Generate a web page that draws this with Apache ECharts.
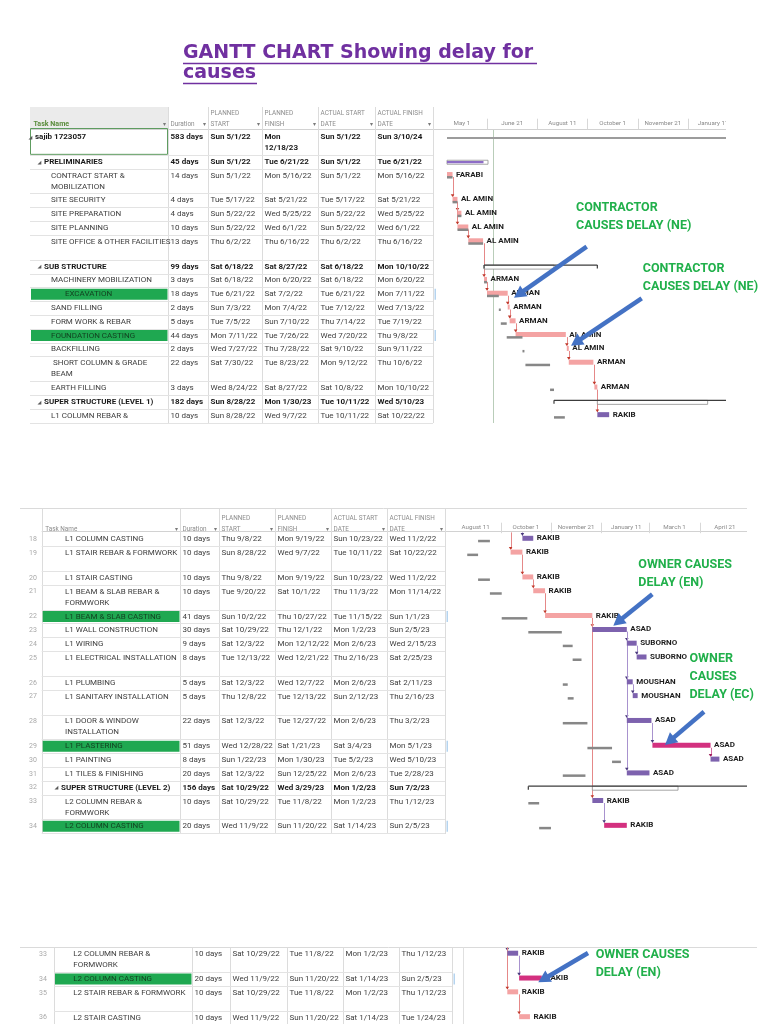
<!DOCTYPE html>
<html>
<head>
<meta charset="utf-8">
<title>GANTT CHART Showing delay for causes</title>
<script src="https://cdn.jsdelivr.net/npm/echarts@6.0.0/dist/echarts.min.js"></script>
<style>
html,body{margin:0;padding:0;background:#ffffff;}
#chart{width:768px;height:1024px;}
</style>
</head>
<body>
<div id="chart"></div>
<script>
// ================= DATA =================
const titleLines = ['GANTT CHART Showing delay for', 'causes'];
const columnHeaders = [['Task Name'], ['Duration'], ['PLANNED', 'START'], ['PLANNED', 'FINISH'], ['ACTUAL START', 'DATE'], ['ACTUAL FINISH', 'DATE']];
const timescale1 = ['May 1', 'June 21', 'August 11', 'October 1', 'November 21', 'January 11'];
const timescale1Dates = ['5/1/22', '6/21/22', '8/11/22', '10/1/22', '11/21/22', '1/11/23'];
const timescale2 = ['August 11', 'October 1', 'November 21', 'January 11', 'March 1', 'April 21'];
const timescale2Dates = ['8/11/22', '10/1/22', '11/21/22', '1/11/23', '3/1/23', '4/21/23'];
const currentDate = 'Mon 6/27/22';

// [row id, task name, duration, planned start, planned finish, actual start, actual finish, resource, kind, text lines, predecessor, highlighted]
const section1Rows = [
  [null, 'sajib 1723057', '583 days', 'Sun 5/1/22', 'Mon\n12/18/23', 'Sun 5/1/22', 'Sun 3/10/24', '', 'project', 2, null, false],
  [null, 'PRELIMINARIES', '45 days', 'Sun 5/1/22', 'Tue 6/21/22', 'Sun 5/1/22', 'Tue 6/21/22', '', 'summaryP', 1, null, false],
  [null, 'CONTRACT START &\nMOBILIZATION', '14 days', 'Sun 5/1/22', 'Mon 5/16/22', 'Sun 5/1/22', 'Mon 5/16/22', 'FARABI', 'critical', 2, null, false],
  [null, 'SITE SECURITY', '4 days', 'Tue 5/17/22', 'Sat 5/21/22', 'Tue 5/17/22', 'Sat 5/21/22', 'AL AMIN', 'critical', 1, 2, false],
  [null, 'SITE PREPARATION', '4 days', 'Sun 5/22/22', 'Wed 5/25/22', 'Sun 5/22/22', 'Wed 5/25/22', 'AL AMIN', 'critical', 1, 3, false],
  [null, 'SITE PLANNING', '10 days', 'Sun 5/22/22', 'Wed 6/1/22', 'Sun 5/22/22', 'Wed 6/1/22', 'AL AMIN', 'critical', 1, 3, false],
  [null, 'SITE OFFICE & OTHER FACILITIES', '13 days', 'Thu 6/2/22', 'Thu 6/16/22', 'Thu 6/2/22', 'Thu 6/16/22', 'AL AMIN', 'critical', 2, 5, false],
  [null, 'SUB STRUCTURE', '99 days', 'Sat 6/18/22', 'Sat 8/27/22', 'Sat 6/18/22', 'Mon 10/10/22', '', 'summary', 1, null, false],
  [null, 'MACHINERY MOBILIZATION', '3 days', 'Sat 6/18/22', 'Mon 6/20/22', 'Sat 6/18/22', 'Mon 6/20/22', 'ARMAN', 'critical', 1, 6, false],
  [null, '       EXCAVATION', '18 days', 'Tue 6/21/22', 'Sat 7/2/22', 'Tue 6/21/22', 'Mon 7/11/22', 'ARMAN', 'critical', 1, 8, true],
  [null, 'SAND FILLING', '2 days', 'Sun 7/3/22', 'Mon 7/4/22', 'Tue 7/12/22', 'Wed 7/13/22', 'ARMAN', 'critical', 1, 9, false],
  [null, 'FORM WORK & REBAR', '5 days', 'Tue 7/5/22', 'Sun 7/10/22', 'Thu 7/14/22', 'Tue 7/19/22', 'ARMAN', 'critical', 1, 10, false],
  [null, 'FOUNDATION CASTING', '44 days', 'Mon 7/11/22', 'Tue 7/26/22', 'Wed 7/20/22', 'Thu 9/8/22', 'AL AMIN', 'critical', 1, 11, true],
  [null, 'BACKFILLING', '2 days', 'Wed 7/27/22', 'Thu 7/28/22', 'Sat 9/10/22', 'Sun 9/11/22', 'AL AMIN', 'critical', 1, 12, false],
  [null, ' SHORT COLUMN & GRADE\nBEAM', '22 days', 'Sat 7/30/22', 'Tue 8/23/22', 'Mon 9/12/22', 'Thu 10/6/22', 'ARMAN', 'critical', 2, 13, false],
  [null, 'EARTH FILLING', '3 days', 'Wed 8/24/22', 'Sat 8/27/22', 'Sat 10/8/22', 'Mon 10/10/22', 'ARMAN', 'critical', 1, 14, false],
  [null, 'SUPER STRUCTURE (LEVEL 1)', '182 days', 'Sun 8/28/22', 'Mon 1/30/23', 'Tue 10/11/22', 'Wed 5/10/23', '', 'summary', 1, null, false],
  [null, 'L1 COLUMN REBAR &', '10 days', 'Sun 8/28/22', 'Wed 9/7/22', 'Tue 10/11/22', 'Sat 10/22/22', 'RAKIB', 'normal', 1, 15, false]
];

const section2Rows = [
  [18, 'L1 COLUMN CASTING', '10 days', 'Thu 9/8/22', 'Mon 9/19/22', 'Sun 10/23/22', 'Wed 11/2/22', 'RAKIB', 'normal', 1, 'top', false],
  [19, 'L1 STAIR REBAR & FORMWORK', '10 days', 'Sun 8/28/22', 'Wed 9/7/22', 'Tue 10/11/22', 'Sat 10/22/22', 'RAKIB', 'critical', 2, 'top', false],
  [20, 'L1 STAIR CASTING', '10 days', 'Thu 9/8/22', 'Mon 9/19/22', 'Sun 10/23/22', 'Wed 11/2/22', 'RAKIB', 'critical', 1, 1, false],
  [21, 'L1 BEAM & SLAB REBAR &\nFORMWORK', '10 days', 'Tue 9/20/22', 'Sat 10/1/22', 'Thu 11/3/22', 'Mon 11/14/22', 'RAKIB', 'critical', 2, 2, false],
  [22, 'L1 BEAM & SLAB CASTING', '41 days', 'Sun 10/2/22', 'Thu 10/27/22', 'Tue 11/15/22', 'Sun 1/1/23', 'RAKIB', 'critical', 1, 3, true],
  [23, 'L1 WALL CONSTRUCTION', '30 days', 'Sat 10/29/22', 'Thu 12/1/22', 'Mon 1/2/23', 'Sun 2/5/23', 'ASAD', 'normal', 1, 4, false],
  [24, 'L1 WIRING', '9 days', 'Sat 12/3/22', 'Mon 12/12/22', 'Mon 2/6/23', 'Wed 2/15/23', 'SUBORNO', 'normal', 1, 5, false],
  [25, 'L1 ELECTRICAL INSTALLATION', '8 days', 'Tue 12/13/22', 'Wed 12/21/22', 'Thu 2/16/23', 'Sat 2/25/23', 'SUBORNO', 'normal', 2, 6, false],
  [26, 'L1 PLUMBING', '5 days', 'Sat 12/3/22', 'Wed 12/7/22', 'Mon 2/6/23', 'Sat 2/11/23', 'MOUSHAN', 'normal', 1, 5, false],
  [27, 'L1 SANITARY INSTALLATION', '5 days', 'Thu 12/8/22', 'Tue 12/13/22', 'Sun 2/12/23', 'Thu 2/16/23', 'MOUSHAN', 'normal', 2, 8, false],
  [28, 'L1 DOOR & WINDOW\nINSTALLATION', '22 days', 'Sat 12/3/22', 'Tue 12/27/22', 'Mon 2/6/23', 'Thu 3/2/23', 'ASAD', 'normal', 2, 5, false],
  [29, 'L1 PLASTERING', '51 days', 'Wed 12/28/22', 'Sat 1/21/23', 'Sat 3/4/23', 'Mon 5/1/23', 'ASAD', 'delayed', 1, 10, true],
  [30, 'L1 PAINTING', '8 days', 'Sun 1/22/23', 'Mon 1/30/23', 'Tue 5/2/23', 'Wed 5/10/23', 'ASAD', 'normal', 1, 11, false],
  [31, 'L1 TILES & FINISHING', '20 days', 'Sat 12/3/22', 'Sun 12/25/22', 'Mon 2/6/23', 'Tue 2/28/23', 'ASAD', 'normal', 1, 5, false],
  [32, 'SUPER STRUCTURE (LEVEL 2)', '156 days', 'Sat 10/29/22', 'Wed 3/29/23', 'Mon 1/2/23', 'Sun 7/2/23', '', 'summary', 1, null, false],
  [33, 'L2 COLUMN REBAR &\nFORMWORK', '10 days', 'Sat 10/29/22', 'Tue 11/8/22', 'Mon 1/2/23', 'Thu 1/12/23', 'RAKIB', 'normal', 2, 4, false],
  [34, 'L2 COLUMN CASTING', '20 days', 'Wed 11/9/22', 'Sun 11/20/22', 'Sat 1/14/23', 'Sun 2/5/23', 'RAKIB', 'delayed', 1, 15, true]
];

const section3Rows = [
  [33, 'L2 COLUMN REBAR &\nFORMWORK', '10 days', 'Sat 10/29/22', 'Tue 11/8/22', 'Mon 1/2/23', 'Thu 1/12/23', 'RAKIB', 'normal', 2, 'top', false],
  [34, 'L2 COLUMN CASTING', '20 days', 'Wed 11/9/22', 'Sun 11/20/22', 'Sat 1/14/23', 'Sun 2/5/23', 'RAKIB', 'delayed', 1, 0, true],
  [35, 'L2 STAIR REBAR & FORMWORK', '10 days', 'Sat 10/29/22', 'Tue 11/8/22', 'Mon 1/2/23', 'Thu 1/12/23', 'RAKIB', 'critical', 2, 'top', false],
  [36, 'L2 STAIR CASTING', '10 days', 'Wed 11/9/22', 'Sun 11/20/22', 'Sat 1/14/23', 'Tue 1/24/23', 'RAKIB', 'critical', 1, 2, false]
];

const calloutTexts = [
  'CONTRACTOR\nCAUSES DELAY (NE)',
  'CONTRACTOR\nCAUSES DELAY (NE)',
  'OWNER CAUSES\nDELAY (EN)',
  'OWNER\nCAUSES\nDELAY (EC)',
  'OWNER CAUSES\nDELAY (EN)'
];

// ================= LAYOUT / STYLE =================
const UNIT = 13.8, TALL = 1.8, PPD = 0.985, DAY = 86400000;
const FONT = 'Roboto, "Liberation Sans", Arial, sans-serif';
const font = (s, b) => (b ? 'bold ' : '') + s + 'px ' + FONT;
const BAR = { critical: '#F4A3A3', normal: '#7D62AE', delayed: '#D3307F' };
const LINK = { critical: '#E58888', normal: '#A892CE', delayed: '#D56BA5' };
const MARK = { critical: '#C0392B', normal: '#4A3A7C', delayed: '#9C1D5A' };

const layouts = [
  { cols: [30, 168, 208, 262, 318, 375, 433], numX: null, headerTop: 107, headerY: 124.3, rowsTop: 130, rowsBottom: 423,
    ganttLeft: 447, ganttRight: 726, anchor: '6/22/22', anchorX: 488, scaleY: 123.7, topBorder: null, divider: null,
    indent: { project: 5, summary: 14, task: 21 }, taskHeaderGreen: true },
  { cols: [41.7, 180, 219, 275, 331, 387, 445], numX: 33, headerTop: 508.5, headerY: 529, rowsTop: 532.4, rowsBottom: 834,
    ganttLeft: 450.5, ganttRight: 747, anchor: '8/11/22', anchorX: 450.5, scaleY: 527.7, topBorder: [20, 747, 508.5], divider: null,
    indent: { project: 5, summary: 19.3, task: 23.3 }, taskHeaderGreen: false },
  { cols: [54, 192, 230, 287, 343, 399, 452], numX: 43, headerTop: null, headerY: null, rowsTop: 947.3, rowsBottom: 1024,
    ganttLeft: 467, ganttRight: 757, anchor: '1/2/23', anchorX: 507.3, scaleY: null, topBorder: [20, 757, 947.5], divider: 463,
    indent: { project: 5, summary: 15, task: 19.3 }, taskHeaderGreen: false }
];

const calloutLayout = [
  { x: 576, y: 207.7, tail: [586.7, 246.7], tip: [514, 297.7] },
  { x: 642.7, y: 269.3, tail: [641.7, 298.3], tip: [571, 345.7] },
  { x: 638.3, y: 565, tail: [652.3, 594.3], tip: [613.3, 625.7] },
  { x: 689.5, y: 659, tail: [704, 711.7], tip: [665, 745] },
  { x: 595.7, y: 955, tail: [588, 953], tip: [538.3, 982.3] }
];

// ================= HELPERS =================
function parseDate(s) {
  const p = s.trim().split(/\s+/).pop().split('/');
  return Date.UTC(2000 + Number(p[2]), Number(p[0]) - 1, Number(p[1]));
}
function spansOf(rows) {
  let t = 0;
  return rows.map(r => { const top = t; t += (r[9] === 2 ? TALL : 1); return [top, t]; });
}
function textTop(t, x, yc, fill, fnt) {
  return { type: 'text', x: x, y: yc - 5.5, style: { text: t, fill: fill, font: fnt, align: 'left', verticalAlign: 'top', lineHeight: 11 } };
}
function kindLevel(kind) {
  if (kind === 'project') return 'project';
  if (kind === 'summary' || kind === 'summaryP') return 'summary';
  return 'task';
}

const sections = [
  { rows: section1Rows, L: layouts[0], scale: timescale1, scaleDates: timescale1Dates },
  { rows: section2Rows, L: layouts[1], scale: timescale2, scaleDates: timescale2Dates },
  { rows: section3Rows, L: layouts[2], scale: [], scaleDates: [] }
];
sections.forEach(s => { s.spans = spansOf(s.rows); });

// ---------- renderers ----------
function tableRowItem(sec) {
  return function (params, api) {
    const i = api.value(3), r = sec.rows[i], L = sec.L, C = L.cols;
    const yTop = api.coord([0, api.value(1)])[1];
    const yBot = api.coord([0, api.value(2)])[1];
    const yc = yTop + UNIT / 2;
    const level = kindLevel(r[8]);
    const bold = level !== 'task';
    const kids = [];
    const yl = Math.round(yBot) + 0.5;
    kids.push({ type: 'line', shape: { x1: C[0], y1: yl, x2: C[6], y2: yl }, style: { stroke: '#E3E3E3', lineWidth: 1 } });
    if (r[11]) {
      kids.push({ type: 'rect', shape: { x: C[0] + 1, y: yc - 5.5, width: C[1] - C[0] - 1.5, height: 11 }, style: { fill: '#1FA851' } });
      kids.push({ type: 'rect', shape: { x: C[6] + 1.5, y: yc - 5.5, width: 1.5, height: 11 }, style: { fill: '#B5D4EF' } });
    }
    if (level === 'project') {
      kids.push({ type: 'rect', shape: { x: C[0] + 0.5, y: yTop - 1.5, width: C[1] - C[0] - 1, height: yBot - yTop + 1 },
        style: { fill: 'none', stroke: '#5E9C60', lineWidth: 1 } });
    }
    if (L.numX != null && r[0] != null) {
      kids.push({ type: 'text', x: L.numX, y: yc, style: { text: String(r[0]), fill: '#A9A9A9', font: font(7, false), align: 'center', verticalAlign: 'middle' } });
    }
    const nx = C[0] + L.indent[level];
    if (bold) {
      kids.push({ type: 'text', x: nx - 4.5, y: yc + 0.5, style: { text: '◢', fill: '#5A5A5A', font: '5px "DejaVu Sans"', align: 'center', verticalAlign: 'middle' } });
    }
    const nameColor = r[11] ? '#123F1F' : (bold ? '#1A1A1A' : '#404040');
    kids.push(textTop(r[1], nx, yc, nameColor, font(8, bold)));
    for (let k = 2; k <= 6; k++) {
      kids.push(textTop(r[k], C[k - 1] + 2.5, yc, bold ? '#1A1A1A' : '#404040', font(8, bold)));
    }
    return { type: 'group', children: kids };
  };
}

function tableHeaderItem(sec) {
  return function (params, api) {
    const j = api.value(2), L = sec.L, C = L.cols;
    const top = L.headerTop != null ? L.headerTop : L.topBorder[2];
    const kids = [];
    const xr = Math.round(C[j + 1]) + 0.5;
    kids.push({ type: 'line', shape: { x1: xr, y1: top, x2: xr, y2: L.rowsBottom }, style: { stroke: '#DCDCDC', lineWidth: 1 } });
    if (j === 0 && L.numX != null) {
      const xl = Math.round(C[0]) + 0.5;
      kids.push({ type: 'line', shape: { x1: xl, y1: top, x2: xl, y2: L.rowsBottom }, style: { stroke: '#DCDCDC', lineWidth: 1 } });
    }
    if (L.headerY != null) {
      const h = columnHeaders[j];
      const green = (j === 0 && L.taskHeaderGreen);
      const fnt = green ? font(7.1, true) : font(6.4, false);
      const col = green ? '#5A8C3C' : '#8C8C8C';
      const tx = C[j] + (j === 0 ? 3.5 : 2.5);
      if (h.length === 2) {
        kids.push({ type: 'text', x: tx, y: L.headerY - 10.5, style: { text: h[0], fill: col, font: fnt, align: 'left', verticalAlign: 'middle' } });
      }
      kids.push({ type: 'text', x: tx, y: L.headerY, style: { text: h[h.length - 1], fill: col, font: fnt, align: 'left', verticalAlign: 'middle' } });
      kids.push({ type: 'text', x: C[j + 1] - 2, y: L.headerY + 0.5, style: { text: '▾', fill: '#7A7A7A', font: '6px "DejaVu Sans"', align: 'right', verticalAlign: 'middle' } });
    }
    return { type: 'group', children: kids };
  };
}

function scaleItem(sec) {
  return function (params, api) {
    const j = api.value(2), cs = params.coordSys, y = sec.L.scaleY;
    const d = parseDate(sec.scaleDates[j]);
    const x0 = api.coord([d, 0])[0];
    const xc = api.coord([d + 25.5 * DAY, 0])[0];
    const kids = [];
    if (x0 > cs.x + 2 && x0 < cs.x + cs.width) {
      const xs = Math.round(x0) + 0.5;
      kids.push({ type: 'line', shape: { x1: xs, y1: y - 5, x2: xs, y2: y + 5.5 }, style: { stroke: '#D8D8D8', lineWidth: 1 } });
    }
    kids.push({ type: 'text', x: xc, y: y, style: { text: sec.scale[j], fill: '#8A8A8A', font: font(6.2, false), align: 'center', verticalAlign: 'middle' } });
    return { type: 'group', children: kids, clipPath: { type: 'rect', shape: { x: cs.x, y: y - 9, width: cs.width, height: 18 } } };
  };
}

function currentLineItem(params, api) {
  const cs = params.coordSys;
  const x = api.coord([api.value(0), 0])[0];
  if (x < cs.x || x > cs.x + cs.width) return null;
  const xs = Math.round(x) + 0.5;
  return { type: 'line', shape: { x1: xs, y1: cs.y, x2: xs, y2: cs.y + cs.height }, style: { stroke: '#B9CDB9', lineWidth: 1 } };
}

function ganttItem(sec, part) {
  return function (params, api) {
    const i = api.value(3), r = sec.rows[i], cs = params.coordSys;
    const xL = cs.x, xR = cs.x + cs.width;
    const yU = api.value(2);
    const X = ms => api.coord([ms, yU])[0];
    const yc = api.coord([api.value(0), yU])[1];
    const clamp = x => Math.max(xL, Math.min(xR, x));
    const ps = parseDate(r[3]), pf = parseDate(r[4]) + DAY, as = parseDate(r[5]), af = parseDate(r[6]) + DAY;
    const kind = r[8];
    const kids = [];
    if (part === 'link') {
      if (r[10] == null) return null;
      const x = X(as);
      if (x < xL || x > xR) return null;
      let y0, ck;
      if (r[10] === 'top') { y0 = cs.y; ck = kind; }
      else {
        const p = r[10];
        y0 = api.coord([api.value(0), sec.spans[p][0] + 0.5])[1] + 1.5;
        ck = sec.rows[p][8];
      }
      const xs = Math.round(x) + 0.5;
      kids.push({ type: 'line', shape: { x1: xs, y1: y0, x2: xs, y2: yc - 4 }, style: { stroke: LINK[ck], lineWidth: 1 } });
      kids.push({ type: 'polygon', shape: { points: [[x - 1.8, yc - 6.2], [x + 1.8, yc - 6.2], [x, yc - 3.4]] }, style: { fill: MARK[ck] } });
      return { type: 'group', children: kids };
    }
    if (kind === 'project') {
      const a = clamp(X(Math.min(ps, as))), b = clamp(X(Math.max(pf, af)));
      kids.push({ type: 'line', shape: { x1: a, y1: yc + 1, x2: b, y2: yc + 1 }, style: { stroke: '#9C9C9C', lineWidth: 2 } });
      return { type: 'group', children: kids };
    }
    if (kind === 'summary' || kind === 'summaryP') {
      const b0 = X(as), b1 = X(pf);
      if (b1 > xL && b0 < xR) {
        kids.push({ type: 'rect', shape: { x: clamp(b0), y: yc - 1.5, width: clamp(b1) - clamp(b0), height: 4 },
          style: { fill: '#ffffff', stroke: '#8E8E8E', lineWidth: 0.8 } });
      }
      const l0 = X(Math.min(ps, as)), l1 = X(Math.max(pf, af));
      if (kind === 'summaryP') {
        kids.push({ type: 'rect', shape: { x: clamp(l0), y: yc - 0.8, width: Math.max(0, clamp(l1) - clamp(l0) - 4.5), height: 2.2 }, style: { fill: '#8D6CC6' } });
      } else {
        const y = yc - 1.5;
        kids.push({ type: 'line', shape: { x1: clamp(l0), y1: y, x2: clamp(l1), y2: y }, style: { stroke: '#3C3C3C', lineWidth: 1.2 } });
        if (l0 >= xL) kids.push({ type: 'line', shape: { x1: l0, y1: y, x2: l0, y2: y + 3.5 }, style: { stroke: '#3C3C3C', lineWidth: 1.2 } });
        if (l1 <= xR) kids.push({ type: 'line', shape: { x1: l1, y1: y, x2: l1, y2: y + 3.5 }, style: { stroke: '#3C3C3C', lineWidth: 1.2 } });
      }
      return { type: 'group', children: kids };
    }
    const a0 = X(as), a1 = X(af);
    if (a1 > xL && a0 < xR) {
      kids.push({ type: 'rect', shape: { x: clamp(a0), y: yc - 3.5, width: Math.max(1.5, clamp(a1) - clamp(a0)), height: 5 }, style: { fill: BAR[kind] } });
    }
    const p0 = X(ps), p1 = X(pf);
    if (p1 > xL && p0 < xR) {
      kids.push({ type: 'rect', shape: { x: clamp(p0), y: yc + 0.5, width: Math.max(1.5, clamp(p1) - clamp(p0)), height: 2.5 }, style: { fill: '#878787' } });
    }
    if (r[7] && a1 > xL && a1 + 4 < xR) {
      kids.push({ type: 'text', x: a1 + 3.5, y: yc - 1, style: { text: r[7], fill: '#1E1E1E', font: font(8, true), align: 'left', verticalAlign: 'middle' } });
    }
    return { type: 'group', children: kids };
  };
}

// ================= OPTION =================
const grids = [], xAxes = [], yAxes = [], series = [];
sections.forEach((sec, s) => {
  const L = sec.L;
  const h = L.rowsBottom - L.rowsTop;
  const units = h / UNIT;
  const gi = 2 * s, gg = 2 * s + 1;
  grids.push({ left: L.cols[0], top: L.rowsTop, width: L.cols[6] - L.cols[0], height: h });
  grids.push({ left: L.ganttLeft, top: L.rowsTop, width: L.ganttRight - L.ganttLeft, height: h });
  const anchor = parseDate(L.anchor);
  xAxes.push({ type: 'value', gridIndex: gi, min: 0, max: 1, show: false });
  xAxes.push({ type: 'time', gridIndex: gg, show: false,
    min: anchor - (L.anchorX - L.ganttLeft) / PPD * DAY,
    max: anchor + (L.ganttRight - L.anchorX) / PPD * DAY });
  yAxes.push({ type: 'value', gridIndex: gi, min: 0, max: units, inverse: true, show: false });
  yAxes.push({ type: 'value', gridIndex: gg, min: 0, max: units, inverse: true, show: false });

  const base = { type: 'custom', coordinateSystem: 'cartesian2d', silent: true, animation: false };
  series.push(Object.assign({}, base, { xAxisIndex: gi, yAxisIndex: gi, z: 2,
    data: sec.spans.map((sp, i) => [0, sp[0], sp[1], i]), encode: { x: 0, y: 1 }, renderItem: tableRowItem(sec) }));
  series.push(Object.assign({}, base, { xAxisIndex: gi, yAxisIndex: gi, z: 1,
    data: columnHeaders.map((c, j) => [0, 0, j]), encode: { x: 0, y: 1 }, renderItem: tableHeaderItem(sec) }));
  if (sec.scale.length) {
    series.push(Object.assign({}, base, { xAxisIndex: gg, yAxisIndex: gg, z: 2,
      data: sec.scaleDates.map((d, j) => [parseDate(d), 0, j]), encode: { x: 0, y: 1 }, renderItem: scaleItem(sec) }));
  }
  series.push(Object.assign({}, base, { xAxisIndex: gg, yAxisIndex: gg, z: 1,
    data: [[parseDate(currentDate), 0]], encode: { x: 0, y: 1 }, renderItem: currentLineItem }));
  const gdata = sec.rows.map((r, i) => [parseDate(r[5]), parseDate(r[6]) + DAY, sec.spans[i][0] + 0.5, i]);
  series.push(Object.assign({}, base, { xAxisIndex: gg, yAxisIndex: gg, z: 3,
    data: gdata, encode: { x: [0, 1], y: 2 }, renderItem: ganttItem(sec, 'link') }));
  series.push(Object.assign({}, base, { xAxisIndex: gg, yAxisIndex: gg, z: 4,
    data: gdata, encode: { x: [0, 1], y: 2 }, renderItem: ganttItem(sec, 'bar') }));
});

// ---------- graphic (title, frame, callouts) ----------
const graphic = [];
graphic.push({ type: 'text', x: 183, y: 53.4, z: 50, style: { text: titleLines[0], fill: '#7030A0', font: 'bold 19px "DejaVu Sans"', align: 'left', verticalAlign: 'middle' } });
graphic.push({ type: 'text', x: 183, y: 73.4, z: 50, style: { text: titleLines[1], fill: '#7030A0', font: 'bold 19px "DejaVu Sans"', align: 'left', verticalAlign: 'middle' } });
graphic.push({ type: 'line', z: 50, shape: { x1: 183, y1: 63.5, x2: 537, y2: 63.5 }, style: { stroke: '#7030A0', lineWidth: 1.6 } });
graphic.push({ type: 'line', z: 50, shape: { x1: 183, y1: 83.5, x2: 257, y2: 83.5 }, style: { stroke: '#7030A0', lineWidth: 1.6 } });

layouts.forEach((L) => {
  if (L.taskHeaderGreen) {
    graphic.push({ type: 'rect', z: 0, shape: { x: L.cols[0], y: L.headerTop, width: L.cols[1] - L.cols[0], height: L.rowsTop - L.headerTop - 1.5 }, style: { fill: '#EBEBEB' } });
  }
  if (L.topBorder) {
    graphic.push({ type: 'line', z: 0, shape: { x1: L.topBorder[0], y1: L.topBorder[2], x2: L.topBorder[1], y2: L.topBorder[2] }, style: { stroke: '#DADADA', lineWidth: 1 } });
  }
  if (L.headerY != null) {
    const y = Math.round(L.rowsTop - 1.5) + 0.5;
    graphic.push({ type: 'line', z: 0, shape: { x1: L.cols[0], y1: y, x2: L.ganttRight, y2: y }, style: { stroke: '#D2D2D2', lineWidth: 1 } });
  }
  if (L.divider != null) {
    const x = Math.round(L.divider) + 0.5;
    graphic.push({ type: 'line', z: 0, shape: { x1: x, y1: L.topBorder[2], x2: x, y2: L.rowsBottom }, style: { stroke: '#E0E0E0', lineWidth: 1 } });
  }
});

function arrow(t, h) {
  const dx = h[0] - t[0], dy = h[1] - t[1], len = Math.hypot(dx, dy);
  const ux = dx / len, uy = dy / len, px = -uy, py = ux;
  const HL = 12, HW = 6.5;
  const bx = h[0] - ux * HL, by = h[1] - uy * HL;
  return [
    { type: 'line', z: 100, shape: { x1: t[0], y1: t[1], x2: bx + ux, y2: by + uy }, style: { stroke: '#4472C4', lineWidth: 4.5 } },
    { type: 'polygon', z: 100, shape: { points: [[h[0], h[1]], [bx + px * HW, by + py * HW], [bx - px * HW, by - py * HW]] }, style: { fill: '#4472C4' } }
  ];
}
calloutTexts.forEach((t, k) => {
  const c = calloutLayout[k];
  graphic.push({ type: 'text', x: c.x, y: c.y - 9, z: 90, style: { text: t, fill: '#21B04B', font: font(12.5, true), align: 'left', verticalAlign: 'top', lineHeight: 18 } });
  arrow(c.tail, c.tip).forEach(e => graphic.push(e));
});

const option = {
  backgroundColor: '#ffffff',
  animation: false,
  grid: grids,
  xAxis: xAxes,
  yAxis: yAxes,
  series: series,
  graphic: graphic
};

const chart = echarts.init(document.getElementById('chart'), null, { renderer: 'canvas', width: 768, height: 1024 });
chart.setOption(option);
</script>
</body>
</html>
